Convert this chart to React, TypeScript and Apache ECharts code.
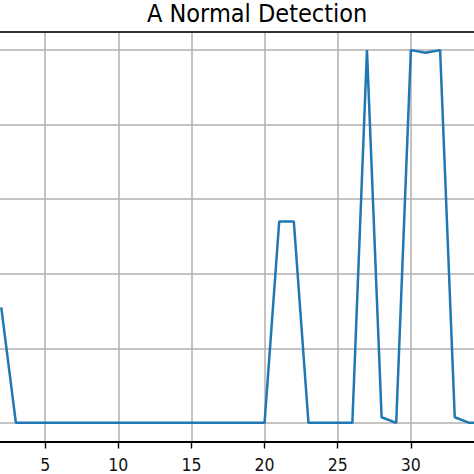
import React, { useEffect, useRef } from "react";
import * as echarts from "echarts";

// x positions (sample index) and detection values
const xValues: number[] = [
  2, 3, 4, 5, 6, 7, 8, 9, 10, 11, 12, 13, 14, 15, 16, 17, 18, 19, 20,
  21, 22, 23, 24, 25, 26, 27, 28, 29, 30, 31, 32, 33, 34, 35,
];
const yValues: number[] = [
  0.31, 0, 0, 0, 0, 0, 0, 0, 0, 0, 0, 0, 0, 0, 0, 0, 0, 0, 0,
  0.54, 0.54, 0, 0, 0, 0, 1.0, 0.015, 0.0, 1.0, 0.993, 1.0, 0.015, 0.0, 0.0,
];
const titleText = "A Normal Detection";
const xTickMin = 0;
const xTickMax = 35;
const xTickStep = 5;
const yMin = -0.05;
const yMax = 1.05;

const FONT = "'DejaVu Sans Condensed', 'DejaVu Sans', sans-serif";
const OFFSET_LEFT = 28.1;
const CHART_W = 512.05;

export default function App() {
  const ref = useRef<HTMLDivElement>(null);

  useEffect(() => {
    if (!ref.current) return;
    const chart = echarts.init(ref.current, null, { renderer: "svg" });
    const data = xValues.map((x, i) => [x, yValues[i]]);
    chart.setOption({
      animation: false,
      backgroundColor: "#ffffff",
      graphic: [
        {
          type: "text",
          x: 257 + OFFSET_LEFT,
          y: 13,
          style: {
            text: titleText,
            textAlign: "center",
            textVerticalAlign: "middle",
            fontFamily: FONT,
            fontSize: 25,
            fill: "#000000",
          },
        },
      ],
      grid: {
        left: 0,
        right: 0,
        top: 31.5,
        bottom: 32.5,
      },
      xAxis: [
        {
          type: "value",
          min: xTickMin,
          max: xTickMax,
          interval: xTickStep,
          position: "bottom",
          axisLine: { show: true, onZero: false, lineStyle: { color: "#000000", width: 1.8 } },
          axisTick: { show: true, length: 7, lineStyle: { color: "#000000", width: 1.4 } },
          axisLabel: {
            show: true,
            margin: 14,
            color: "#111111",
            fontFamily: FONT,
            fontSize: 17.5,
            showMinLabel: false,
            showMaxLabel: false,
          },
          splitLine: { show: true, lineStyle: { color: "#b0b0b0", width: 1.5 } },
        },
        {
          type: "value",
          min: xTickMin,
          max: xTickMax,
          interval: xTickStep,
          position: "top",
          axisLine: { show: true, onZero: false, lineStyle: { color: "#000000", width: 1.6 } },
          axisTick: { show: false },
          axisLabel: { show: false },
          splitLine: { show: false },
        },
      ],
      yAxis: {
        type: "value",
        min: yMin,
        max: yMax,
        splitNumber: 5,
        axisLine: { show: false },
        axisTick: { show: false },
        axisLabel: { show: false },
        splitLine: { show: true, lineStyle: { color: "#b0b0b0", width: 1.5 } },
      },
      series: [
        {
          type: "line",
          xAxisIndex: 0,
          data,
          symbol: "none",
          lineStyle: { color: "#1f77b4", width: 2.5 },
        },
      ],
    });
    return () => chart.dispose();
  }, []);

  return (
    <div
      style={{
        position: "absolute",
        left: 0,
        top: 0,
        width: 474,
        height: 474,
        overflow: "hidden",
        background: "#ffffff",
      }}
    >
      <div
        ref={ref}
        style={{
          position: "absolute",
          left: -OFFSET_LEFT,
          top: 0,
          width: CHART_W,
          height: 474,
        }}
      />
    </div>
  );
}
